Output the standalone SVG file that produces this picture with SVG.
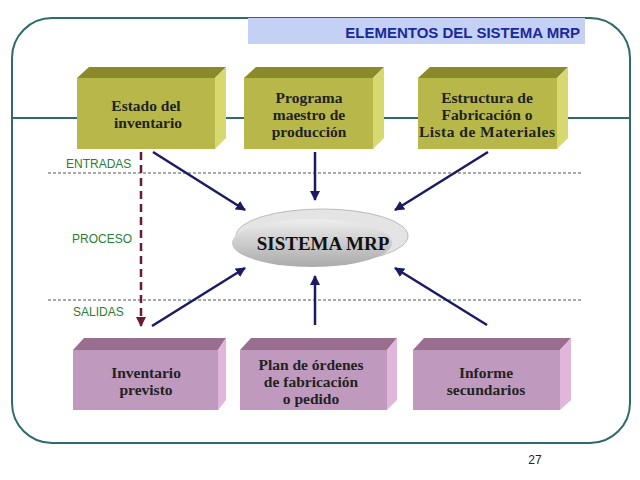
<svg xmlns="http://www.w3.org/2000/svg" width="640" height="480" viewBox="0 0 640 480">
<defs>
<style>
.bt{font-family:"Liberation Serif","DejaVu Serif",serif;font-weight:bold;font-size:15.5px;fill:#222;text-anchor:middle}
.lb{font-family:"Liberation Sans",Arial,sans-serif;font-size:12px;fill:#2e7d32}
.ar{stroke:#1a1a66;stroke-width:2.5;fill:none;marker-end:url(#ah)}
.dl{stroke:#555;stroke-width:1;stroke-dasharray:3,2}
</style>
<marker id="ah" viewBox="0 0 10 10" refX="9" refY="5" markerWidth="4" markerHeight="4" orient="auto"><path d="M0,0L10,5L0,10z" fill="#1a1a66"/></marker>
<marker id="ahr" viewBox="0 0 10 10" refX="9" refY="5" markerWidth="4" markerHeight="4" orient="auto"><path d="M0,0L10,5L0,10z" fill="#6b1a33"/></marker>
<linearGradient id="eg" x1="0" y1="0" x2="0" y2="1"><stop offset="0" stop-color="#eee"/><stop offset="1" stop-color="#aaa"/></linearGradient>
</defs>
<rect width="640" height="480" fill="#fff"/>
<rect x="12" y="18" width="618" height="425" rx="40" fill="none" stroke="#2f6b6b" stroke-width="2"/>
<rect x="248" y="18" width="337" height="26" fill="#c5d0f5"/>
<text x="580" y="38" text-anchor="end" font-family="Liberation Sans,Arial,sans-serif" font-size="15" font-weight="bold" fill="#1a2a99">ELEMENTOS DEL SISTEMA MRP</text>
<line x1="12" y1="118" x2="630" y2="118" stroke="#2f6b6b" stroke-width="2"/>
<line class="dl" x1="48" y1="173" x2="583" y2="173"/>
<line class="dl" x1="48" y1="300" x2="583" y2="300"/>
<text class="lb" x="66" y="168">ENTRADAS</text>
<text class="lb" x="72" y="243">PROCESO</text>
<text class="lb" x="73" y="316">SALIDAS</text>
<g id="n1"><polygon points="77,78 89,67 226,67 215,78" fill="#8a8a2a"/><polygon points="215,78 226,67 226,138 215,149" fill="#d8d870"/><rect x="77" y="78" width="138" height="71" fill="#b8b84a"/><text class="bt" x="146" y="111">Estado del</text><text class="bt" x="148" y="128">inventario</text></g>
<g id="n2"><polygon points="244,78 256,67 384,67 373,78" fill="#8a8a2a"/><polygon points="373,78 384,67 384,138 373,149" fill="#d8d870"/><rect x="244" y="78" width="129" height="71" fill="#b8b84a"/><text class="bt" x="309" y="103">Programa</text><text class="bt" x="309" y="120">maestro de</text><text class="bt" x="309" y="137">producción</text></g>
<g id="n3"><polygon points="418,78 430,67 568,67 557,78" fill="#8a8a2a"/><polygon points="557,78 568,67 568,138 557,149" fill="#d8d870"/><rect x="418" y="78" width="139" height="71" fill="#b8b84a"/><text class="bt" x="487" y="103">Estructura de</text><text class="bt" x="487" y="120">Fabricación o</text><text class="bt" x="487" y="137" textLength="136">Lista de Materiales</text></g>
<g id="n4"><polygon points="73,350 84,338 226,338 218,350" fill="#9a6e8e"/><polygon points="218,350 226,338 226,400 218,410" fill="#e0b6dc"/><rect x="73" y="350" width="145" height="60" fill="#c09abe"/><text class="bt" x="146" y="378">Inventario</text><text class="bt" x="146" y="395">previsto</text></g>
<g id="n5"><polygon points="240,350 251,338 397,338 387,350" fill="#9a6e8e"/><polygon points="387,350 397,338 397,400 387,410" fill="#e0b6dc"/><rect x="240" y="350" width="147" height="60" fill="#c09abe"/><text class="bt" x="311" y="370">Plan de órdenes</text><text class="bt" x="311" y="387">de fabricación</text><text class="bt" x="311" y="404">o pedido</text></g>
<g id="n6"><polygon points="413,350 424,338 571,338 560,350" fill="#9a6e8e"/><polygon points="560,350 571,338 571,400 560,410" fill="#e0b6dc"/><rect x="413" y="350" width="147" height="60" fill="#c09abe"/><text class="bt" x="486" y="378">Informe</text><text class="bt" x="486" y="395">secundarios</text></g>
<g id="mrp"><ellipse cx="322" cy="236" rx="86" ry="27" fill="#e4e4e4" stroke="#bbb"/><ellipse cx="312" cy="243" rx="80" ry="24" fill="url(#eg)"/><text x="323" y="250" text-anchor="middle" font-family="Liberation Serif,serif" font-weight="bold" font-size="19" fill="#111">SISTEMA MRP</text></g>
<g id="connectors">
<line x1="141" y1="152" x2="141" y2="326" stroke="#6b1a33" stroke-width="2.5" stroke-dasharray="8,5" marker-end="url(#ahr)"/>
<line class="ar" x1="153" y1="152" x2="245" y2="210"/>
<line class="ar" x1="315" y1="152" x2="315" y2="200"/>
<line class="ar" x1="488" y1="152" x2="395" y2="210"/>
<line class="ar" x1="152" y1="326" x2="245" y2="268"/>
<line class="ar" x1="315" y1="325" x2="315" y2="276"/>
<line class="ar" x1="487" y1="325" x2="395" y2="268"/>
</g>
<text x="535" y="464" text-anchor="middle" font-family="Liberation Sans,Arial,sans-serif" font-size="12" fill="#222">27</text>
</svg>
